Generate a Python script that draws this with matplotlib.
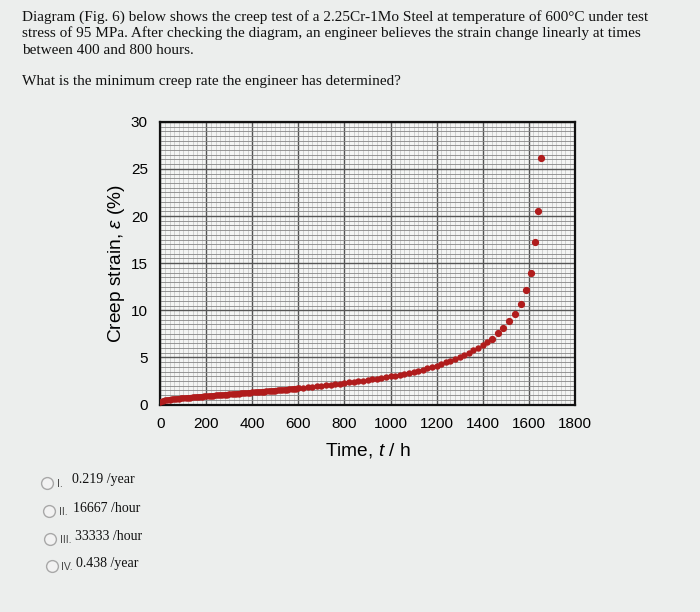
import numpy as np
import matplotlib.pyplot as plt
from matplotlib.ticker import MultipleLocator

plt.rcParams['font.family'] = ['Liberation Sans', 'DejaVu Sans']
plt.rcParams['mathtext.fontset'] = 'custom'
plt.rcParams['mathtext.rm'] = 'Liberation Sans'
plt.rcParams['mathtext.it'] = 'Liberation Sans:italic'

# creep curve
# dense part, 0..600 h every 10 h
t_dense = np.arange(0, 610, 10)
strain_dense = [0.25, 0.36, 0.43, 0.48, 0.52, 0.55, 0.58, 0.61, 0.63, 0.66,
                0.68, 0.70, 0.72, 0.74, 0.76, 0.78, 0.80, 0.82, 0.84, 0.86,
                0.88, 0.90, 0.92, 0.94, 0.96, 0.98, 1.00, 1.02, 1.04, 1.06,
                1.08, 1.10, 1.12, 1.14, 1.16, 1.18, 1.20, 1.22, 1.24, 1.26,
                1.28, 1.30, 1.32, 1.34, 1.36, 1.38, 1.40, 1.42, 1.44, 1.46,
                1.48, 1.50, 1.52, 1.54, 1.56, 1.58, 1.61, 1.64, 1.67, 1.70,
                1.73]
# sparse part, 620..1420 h every 20 h
t_sparse = np.arange(620, 1440, 20)
strain_sparse = [1.78, 1.83, 1.88, 1.93, 1.98, 2.04, 2.10, 2.16, 2.22, 2.28,
                 2.34, 2.40, 2.46, 2.53, 2.60, 2.67, 2.74, 2.82, 2.90, 2.98,
                 3.07, 3.16, 3.26, 3.36, 3.47, 3.58, 3.70, 3.83, 3.97, 4.14,
                 4.30, 4.47, 4.65, 4.84, 5.05, 5.27, 5.51, 5.77, 6.05, 6.36,
                 6.68]
# tertiary tail
t_tail = [1440, 1465, 1490, 1515, 1540, 1565, 1588, 1610, 1628, 1642, 1655]
strain_tail = [7.0, 7.6, 8.1, 8.9, 9.6, 10.7, 12.1, 14.0, 17.2, 20.5, 26.2]

question_lines = [
    "Diagram (Fig. 6) below shows the creep test of a 2.25Cr-1Mo Steel at temperature of 600\u00b0C under test",
    "stress of 95 MPa. After checking the diagram, an engineer believes the strain change linearly at times",
    "between 400 and 800 hours.",
]
question = "What is the minimum creep rate the engineer has determined?"
option_nums = ["I.", "II.", "III.", "IV."]
option_texts = ["0.219 /year", "16667 /hour", "33333 /hour", "0.438 /year"]

red = '#b01c1c'

fig = plt.figure(figsize=(7, 6.12), dpi=100, facecolor='#eceeed')

# overlay in pixel coordinates for the question text
ov = fig.add_axes([0, 0, 1, 1], zorder=0)
ov.set_xlim(0, 700)
ov.set_ylim(612, 0)
ov.axis('off')

serif = ['Liberation Serif', 'DejaVu Serif']
for i, line in enumerate(question_lines):
    ov.text(22, 17 + i * 16.5, line, family=serif, fontsize=11, va='center', ha='left', color='#111111')
ov.text(22, 82, question, family=serif, fontsize=11, va='center', ha='left', color='#111111')

radio_y = [483, 511, 539, 566]
for i in range(4):
    y = radio_y[i]
    ov.plot(47 + i * 1.5, y, 'o', ms=8.5, mfc='#f2f2f2', mec='#a8a8a8', mew=1.0)
    ov.text(57 + i * 1.5, y + 1, option_nums[i], fontsize=7.5, va='center', ha='left', color='#444444')
    ov.text(72 + i * 1.3, y - 3, option_texts[i], family=serif, fontsize=10, va='center', ha='left', color='#111111')

# the chart
ax = fig.add_axes([0.229, 0.339, 0.592, 0.462], zorder=1)
ax.set_facecolor('#f4f5f4')
ax.plot(t_dense, strain_dense, '-', color=red, lw=3.8, marker='o', ms=3.6, zorder=3)
ax.plot(t_sparse, strain_sparse, 'o', color=red, ms=3.6, zorder=3)
ax.plot(t_tail, strain_tail, 'o', color=red, ms=4.2, zorder=3)

ax.set_xlim(0, 1800)
ax.set_ylim(0, 30)
ax.xaxis.set_major_locator(MultipleLocator(200))
ax.xaxis.set_minor_locator(MultipleLocator(20))
ax.yaxis.set_major_locator(MultipleLocator(5))
ax.yaxis.set_minor_locator(MultipleLocator(0.5))
ax.grid(which='major', color='#555555', lw=1.0)
ax.grid(which='minor', axis='y', color='#858585', lw=0.6)
ax.grid(which='minor', axis='x', color='#b5b5b5', lw=0.4)
ax.set_axisbelow(True)
ax.tick_params(which='both', length=0, labelsize=11, pad=9)
for s in ax.spines.values():
    s.set_linewidth(1.6)
    s.set_color('#111111')

ax.set_xlabel('Time, $t$ / h', fontsize=13.8, labelpad=7)
ax.set_ylabel('Creep strain, $\\varepsilon$ (%)', fontsize=13.8, labelpad=3)

fig.savefig('out.png', dpi=100, facecolor=fig.get_facecolor())
